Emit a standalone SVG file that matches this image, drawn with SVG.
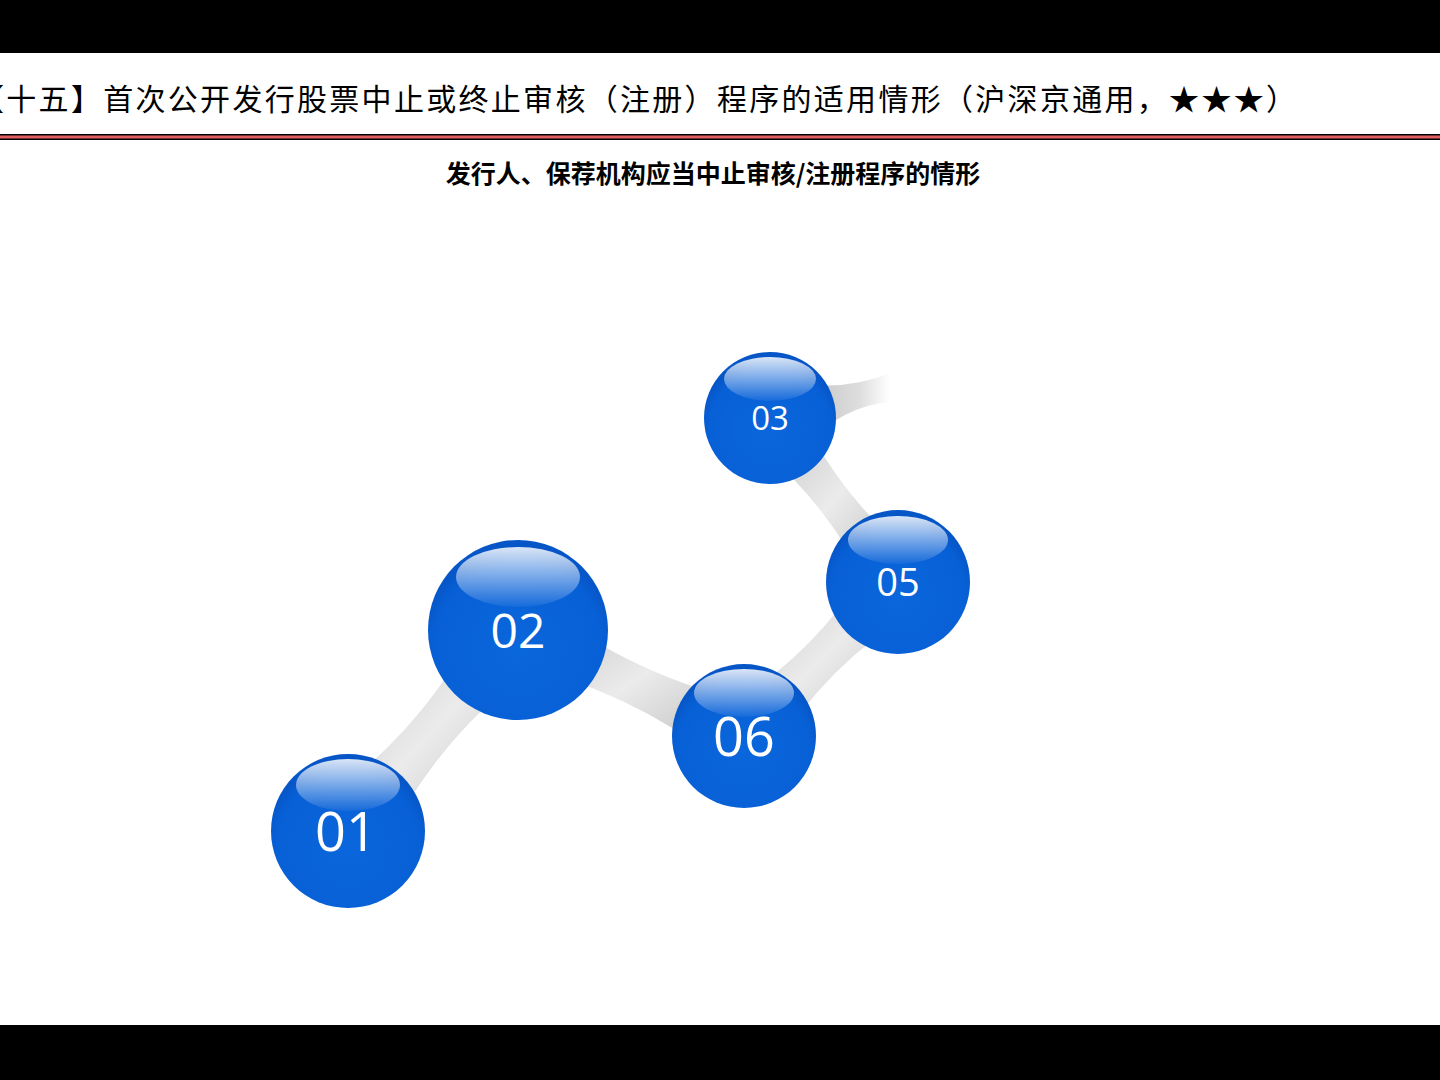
<svg xmlns="http://www.w3.org/2000/svg" width="1440" height="1080" viewBox="0 0 1440 1080">
<style>
.num{fill:#fff;font-family:"Open Sans","Noto Sans",sans-serif;text-anchor:middle}
.bond{fill:url(#g)}
</style>
<defs>
<linearGradient id="g" x1="0" y1="0" x2="1" y2="1"><stop offset="0" stop-color="#b8b8b8"/><stop offset="0.5" stop-color="#ebebeb"/><stop offset="1" stop-color="#b0b0b0"/></linearGradient>
<linearGradient id="gf" x1="0" y1="0" x2="1" y2="0"><stop offset="0" stop-color="#bcbcbc"/><stop offset="0.7" stop-color="#dedede"/><stop offset="1" stop-color="#fff"/></linearGradient>
<radialGradient id="b" cx="0.5" cy="0.6" r="0.55"><stop offset="0" stop-color="#0a66dc"/><stop offset="0.85" stop-color="#0860d6"/><stop offset="1" stop-color="#0656c8"/></radialGradient>
<linearGradient id="h" x1="0" y1="0" x2="0" y2="1"><stop offset="0" stop-color="#fff" stop-opacity="0.85"/><stop offset="1" stop-color="#fff" stop-opacity="0.05"/></linearGradient>
</defs>
<rect width="1440" height="1080" fill="#fff"/>
<rect width="1440" height="53" fill="#000"/>
<rect y="1025" width="1440" height="55" fill="#000"/>
<text x="-26" y="110" font-family="Noto Sans CJK SC,sans-serif" font-size="30" fill="#000" textLength="1322" lengthAdjust="spacing">【十五】首次公开发行股票中止或终止审核（注册）程序的适用情形（沪深京通用，★★★）</text>
<rect x="0" y="134" width="1440" height="6" fill="#000"/>
<rect x="0" y="135.5" width="1440" height="3" fill="#e06060"/>
<text x="713" y="183" font-family="Noto Sans CJK SC,sans-serif" font-size="25" font-weight="bold" text-anchor="middle">发行人、保荐机构应当中止审核/注册程序的情形</text>
<g id="connectors">
<path class="bond" d="M378.6,856.8 Q436,733 548.6,655.8 L487.4,604.2 Q430,728 317.4,805.2 Z"/>
<path class="bond" d="M503.1,661.7 Q628.9,687.5 729.1,767.7 L758.9,704.3 Q633.1,678.5 532.9,598.3 Z"/>
<path class="bond" d="M768.7,760.7 Q824.5,662.5 922.7,606.7 L873.3,557.3 Q817.5,655.5 719.3,711.3 Z"/>
<path class="bond" d="M921.6,563.6 Q837.2,497.5 793.6,399.6 L746.4,436.4 Q830.8,502.5 874.4,600.4 Z"/>
<path fill="url(#gf)" d="M790,382 Q845,392 890,373 L890,402 Q845,405 800,448 Z"/>
</g>
<g id="n01"><circle cx="348" cy="831" r="77" fill="url(#b)"/><ellipse cx="348" cy="785" rx="52" ry="26" fill="url(#h)"/><text class="num" x="346" y="851" font-size="54">01</text></g>
<g id="n02"><circle cx="518" cy="630" r="90" fill="url(#b)"/><ellipse cx="518" cy="577" rx="62" ry="30" fill="url(#h)"/><text class="num" x="518" y="648" font-size="48">02</text></g>
<g id="n06"><circle cx="744" cy="736" r="72" fill="url(#b)"/><ellipse cx="744" cy="693" rx="50" ry="24" fill="url(#h)"/><text class="num" x="744" y="756" font-size="54">06</text></g>
<g id="n05"><circle cx="898" cy="582" r="72" fill="url(#b)"/><ellipse cx="898" cy="540" rx="50" ry="24" fill="url(#h)"/><text class="num" x="898" y="596" font-size="38">05</text></g>
<g id="n03"><circle cx="770" cy="418" r="66" fill="url(#b)"/><ellipse cx="770" cy="379" rx="46" ry="22" fill="url(#h)"/><text class="num" x="770" y="430" font-size="33">03</text></g>
</svg>
